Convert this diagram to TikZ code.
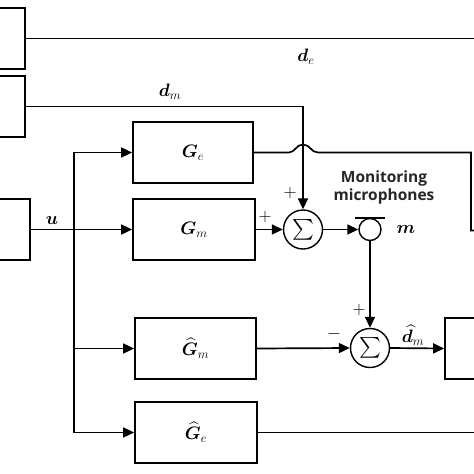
\RequirePackage{fix-cm}
\documentclass[tikz,border=0pt]{standalone}
\usepackage{amsmath}
\usepackage{bm}
\usepackage{fontspec}
\newfontfamily\labfont{Open Sans}
\usetikzlibrary{arrows.meta}
\tikzset{
  blk/.style={draw, line width=1.7pt, minimum width=#1, minimum height=61pt, inner sep=0pt},
  blk/.default=121pt,
  sumnode/.style={draw, circle, line width=1.4pt, minimum size=39pt, inner sep=0pt},
  micnode/.style={draw, circle, line width=1.4pt, minimum size=22pt, inner sep=0pt},
  wire/.style={line width=1.7pt},
  arr/.style={wire, -{Triangle[length=11pt,width=10pt]}},
  lab/.style={font=\fontsize{18}{21}\selectfont, inner sep=0pt},
  blab/.style={font=\fontsize{18}{21}\selectfont},
}
\begin{document}
\begin{tikzpicture}[x=1pt,y=-1pt]
\useasboundingbox (0,0) rectangle (474,474);
\clip (0,0) rectangle (474,474);
% blocks
\node[blk=65pt] (srcE) at (-7.5,38.5) {};
\node[blk=65pt] (srcM) at (-7.5,106.5) {};
\node[blk=70pt] (ctrl) at (-5,229.5) {};
\node[blk=120pt, blab] (Ge) at (193,152.5) {$\bm{G}_{e}$};
\node[blk=122pt, blab] (Gm) at (194,229.5) {$\bm{G}_{m}$};
\node[blk=121pt, blab] (Gmh) at (195.5,348.5) {$\widehat{\bm{G}}_{m}$};
\node[blk=122pt, blab] (Geh) at (196,432.5) {$\widehat{\bm{G}}_{e}$};
\node[blk=75pt] (outB) at (482.5,348.5) {};
\node[sumnode] (sum1) at (303,229.5) {\fontsize{20}{20}\selectfont$\sum$};
\node[sumnode] (sum2) at (370,348) {\fontsize{20}{20}\selectfont$\sum$};
\node[micnode] (mic) at (370,229.5) {};
% free ends
\coordinate (deEnd) at (480,38.5);
\coordinate (br) at (74,229.5);
\coordinate (hopA) at (289,152.5);
\coordinate (hopB) at (318,152.5);
\coordinate (turnE) at (471,152.5);
\coordinate (geEnd) at (480,230.5);
\coordinate (gehEnd) at (480,432.5);
\coordinate (micL) at (355,218);
\coordinate (micR) at (385,218);
% connectors
\draw[wire] (srcE.east) -- (deEnd);
\draw[arr] (srcM.east) -| (sum1.north);
\draw[arr] (ctrl.east) -- (Gm.west);
\draw[arr] (br) |- (Ge.west);
\draw[arr] (br) |- (Gmh.west);
\draw[arr] (br) |- (Geh.west);
\draw[wire] (Ge.east) -- (hopA) .. controls (295,152.5) and (296,144.5) .. (303,144.5)
  .. controls (310,144.5) and (311,152.5) .. (hopB) -- (turnE) |- (geEnd);
\draw[arr] (Gm.east) -- (sum1.west);
\draw[arr] (sum1.east) -- (mic.west);
\draw[wire] (micL) -- (micR);
\draw[arr] (mic.south) -- (sum2.north);
\draw[arr] (Gmh.east) -- (sum2.west);
\draw[arr] (sum2.east) -- (outB.west);
\draw[wire] (Geh.east) -- (gehEnd);
% labels
\node[lab] (lde) at (306,57) {$\bm{d}_{e}$};
\node[lab] (ldm) at (170,92) {$\bm{d}_{m}$};
\node[lab] (lu) at (52,220) {$\bm{u}$};
\node[lab] (lp1) at (265,217) {$+$};
\node[lab] (lp2) at (290,193) {$+$};
\node[lab] (lm) at (406,229) {$\bm{m}$};
\node[lab] (lp3) at (359,310) {$+$};
\node[lab] (lmin) at (334,334) {$-$};
\node[lab] (ldmh) at (413,335) {$\widehat{\bm{d}}_{m}$};
\node[font=\labfont\bfseries\fontsize{15.5}{18}\selectfont, align=center, text=black!85, inner sep=0pt] (mon) at (384,187) {Monitoring\\microphones};
\end{tikzpicture}
\end{document}
